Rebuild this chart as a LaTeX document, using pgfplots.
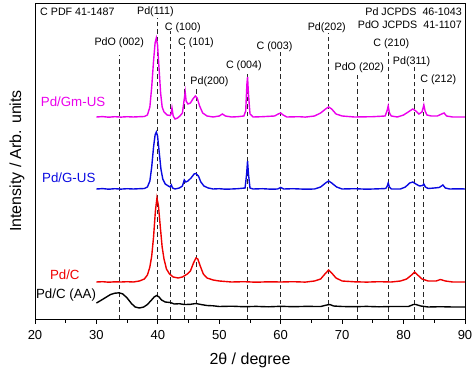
\documentclass[border=0pt]{standalone}
\usepackage{fontspec}
\setmainfont{Liberation Sans}
\usepackage{pgfplots}
\pgfplotsset{compat=1.18}
\definecolor{mag}{RGB}{235,0,235}
\definecolor{blu}{RGB}{10,10,225}
\definecolor{rd}{RGB}{240,0,0}
\definecolor{dsh}{RGB}{40,40,40}
\newcommand{\ann}{\fontsize{10.7bp}{12bp}\selectfont}
\newcommand{\ser}{\fontsize{13.3bp}{15bp}\selectfont}
\begin{document}
\begin{tikzpicture}
\begin{axis}[
  scale only axis, width=430bp, height=316bp,
  xmin=20, xmax=90, ymin=0, ymax=316,
  ytick=\empty, xtick={20,30,...,90}, minor x tick num=1,
  tick align=outside, xtick pos=bottom,
  clip=false,
  axis line style={line width=0.9bp},
  every tick/.style={black, line width=0.8bp},
  major tick length=4.5bp, minor tick length=3.5bp,
  ticklabel style={font=\fontsize{13bp}{14bp}\selectfont},
  /pgf/number format/assume math mode=true,
  xticklabel style={yshift=-3bp},
]
% dashed reference lines
\foreach \xx/\yy in {33.8/264, 39.9/301, 42.1/288, 44.4/273, 46.3/231, 54.5/247, 59.9/267, 67.8/286, 72.5/244, 77.5/269, 81.8/252, 83.2/231}{
  \edef\temp{\noexpand\addplot[dsh, line width=0.8bp, dash pattern=on 4.5bp off 3bp, forget plot] coordinates {(\xx,0) (\xx,\yy)};}
  \temp
}
% Pd/C (AA)
\addplot[black, line width=1.4bp] coordinates {
(30.0,16) (30.7,18.5) (31.5,21.5) (32.3,24.5) (33.0,25.8) (33.7,26.2) (34.3,25) (35.0,21) (35.7,15.5) (36.3,12) (37.0,11) (37.7,12) (38.3,14.5) (38.9,18.5) (39.4,22) (39.8,23.5) (40.2,22) (40.6,19) (41.2,17) (42.0,16.5) (42.7,15) (43.5,15.3) (44.3,14.5) (45.2,14.6) (46.2,15.5) (47.0,14.5) (48,13.5) (49,13.2) (50,12.5) (52,12.8) (54,12.3) (56,12.6) (58,12.2) (60,12.7) (62,12.3) (64,12.6) (66.5,12.5) (67.5,14) (68.0,14.5) (68.6,13) (70,12.5) (72,12.3) (74,12.6) (76,12.2) (78,12.5) (80.8,12.5) (81.6,14.5) (82.0,14.5) (82.8,13) (84,12) (86,12.3) (88,12) (90,12)
};
% Pd/C
\addplot[rd, line width=1.4bp] coordinates {
(30,37) (31,37.3) (32,36.8) (33,37.2) (34,37) (35,37.3) (36.0,37) (37.0,38) (37.8,40) (38.3,44) (38.7,52) (39.0,63) (39.3,82) (39.6,108) (39.85,121) (40.1,113) (40.4,92) (40.7,72) (41.0,60) (41.4,50) (41.9,45) (42.5,42) (43.3,41) (44.0,42) (44.8,45) (45.3,48) (45.8,56) (46.2,61) (46.5,60) (46.9,53) (47.4,45) (48.0,41) (49,39) (50,38) (52,37) (54,37.3) (56,36.8) (58,37.2) (60,37) (62,37.3) (64,36.9) (65.5,38) (66.5,40) (67.2,45) (67.8,49) (68.3,46) (69.0,41) (70,38) (72,37.2) (74,36.9) (76,37.3) (78,37) (79.5,38) (80.5,40) (81.3,44) (81.8,47) (82.3,44) (83.0,40) (84,38) (85.3,38) (86,39.5) (86.8,38) (88,37) (90,37)
};
% Pd/G-US
\addplot[blu, line width=1.4bp] coordinates {
(30,130) (31,130.4) (32,129.8) (33,130.3) (34,129.9) (35,130.3) (36,130) (37,130.3) (37.8,130.5) (38.3,132) (38.7,138) (39.0,152) (39.3,172) (39.55,184) (39.75,187) (39.95,183) (40.2,168) (40.5,150) (40.8,140) (41.2,135) (41.7,133) (42.0,132) (42.2,134) (42.4,131) (42.8,130) (43.5,131) (44.0,133) (44.3,139) (44.55,137) (44.9,138) (45.4,141) (45.9,145) (46.2,145.5) (46.6,143) (47.0,137) (47.5,133) (48.2,131) (49,130) (50,130.3) (51,129.8) (52,130) (53,130.3) (54.2,131) (54.45,145) (54.6,158) (54.75,145) (55.0,131) (55.5,130) (57,130.3) (58.5,129.8) (59.5,130) (60.0,131.5) (60.5,130) (62,130.3) (64,129.8) (65.5,130) (66.5,132) (67.3,136) (67.8,138) (68.3,136) (69.1,132) (70,130) (72,130.3) (74,129.8) (76,130.2) (77.1,130.5) (77.35,133) (77.5,136) (77.7,132) (78.0,130) (79.5,130) (80.3,132) (81.0,136) (81.5,137) (82.0,135) (82.6,133) (83.1,133.5) (83.3,135) (83.55,132) (84.0,130.5) (85.0,131) (85.8,131.5) (86.4,134) (86.8,131) (87.5,130) (89,130.2) (90,130)
};
% Pd/Gm-US
\addplot[mag, line width=1.4bp] coordinates {
(30,202) (31,202.4) (32,201.8) (33,202.3) (34,201.9) (35,202.3) (36,202) (37,202.3) (37.8,202.5) (38.3,204) (38.7,212) (39.0,232) (39.3,258) (39.55,276) (39.75,281) (39.95,274) (40.2,250) (40.45,226) (40.7,212) (41.0,207) (41.5,204) (42.0,203.5) (42.15,205) (42.3,211) (42.5,203) (42.8,200) (43.2,201) (43.6,203) (44.0,206) (44.3,220) (44.45,227) (44.6,218) (44.9,215) (45.3,216) (45.7,220) (46.1,223) (46.4,221) (46.8,213) (47.3,206) (48,203) (49,202) (50,203) (50.5,205) (51,203) (52,202) (53,202.3) (54,203) (54.3,208) (54.5,235) (54.6,242) (54.75,225) (55.0,205) (55.5,202) (57,202.3) (59,203) (59.6,205) (60,206) (60.4,204) (61,202) (63,202.3) (64,201.9) (65.5,203) (66.5,206) (67.3,210) (67.8,212) (68.3,210) (69,205) (70,203) (72,202) (75,202.3) (77.0,203) (77.3,208) (77.5,213) (77.7,206) (78.0,203) (79,202) (80,204) (81,208) (81.5,210) (82,208) (82.5,205) (83.0,207) (83.3,214) (83.5,208) (83.8,204) (84.5,203) (85.5,203) (86.2,205) (86.6,206) (87,203) (88,202) (90,202)
};
% annotations
\node[font=\ann, inner sep=0, anchor=west] at (axis cs:20.81,307) {C PDF 41-1487};
\node[font=\ann, inner sep=0] at (axis cs:33.72,276) {PdO (002)};
\node[font=\ann, inner sep=0] at (axis cs:39.6,307) {Pd(111)};
\node[font=\ann, inner sep=0] at (axis cs:44.06,291) {C (100)};
\node[font=\ann, inner sep=0] at (axis cs:46.2,276) {C (101)};
\node[font=\ann, inner sep=0] at (axis cs:48.4,237) {Pd(200)};
\node[font=\ann, inner sep=0] at (axis cs:54.0,253) {C (004)};
\node[font=\ann, inner sep=0] at (axis cs:59.0,272) {C (003)};
\node[font=\ann, inner sep=0] at (axis cs:67.5,291) {Pd(202)};
\node[font=\ann, inner sep=0] at (axis cs:72.8,251) {PdO (202)};
\node[font=\ann, inner sep=0] at (axis cs:78.0,275) {C (210)};
\node[font=\ann, inner sep=0] at (axis cs:81.3,257) {Pd(311)};
\node[font=\ann, inner sep=0] at (axis cs:85.65,239) {C (212)};
\node[font=\ann, inner sep=0, anchor=east] at (axis cs:89.51,307) {Pd JCPDS\ \ 46-1043};
\node[font=\ann, inner sep=0, anchor=east] at (axis cs:89.51,294) {PdO JCPDS\ \ 41-1107};
% series labels
\node[font=\ser, text=mag, inner sep=0] at (axis cs:26.2,217.3) {Pd/Gm-US};
\node[font=\ser, text=blu, inner sep=0] at (axis cs:25.5,141) {Pd/G-US};
\node[font=\ser, text=rd, inner sep=0] at (axis cs:24.85,44) {Pd/C};
\node[font=\ser, text=black, inner sep=0] at (axis cs:25.05,24) {Pd/C (AA)};
% axis labels
\node[font=\fontsize{16bp}{18bp}\selectfont, rotate=90, inner sep=0] at ([xshift=-18bp]axis cs:20,158) {Intensity / Arb. units};
\node[font=\fontsize{16bp}{18bp}\selectfont, inner sep=0] at ([yshift=-41bp]axis cs:55,0) {2θ / degree};
\end{axis}
\pgfresetboundingbox
\useasboundingbox (-35bp,-51bp) rectangle (439bp,319bp);
\end{tikzpicture}
\end{document}
